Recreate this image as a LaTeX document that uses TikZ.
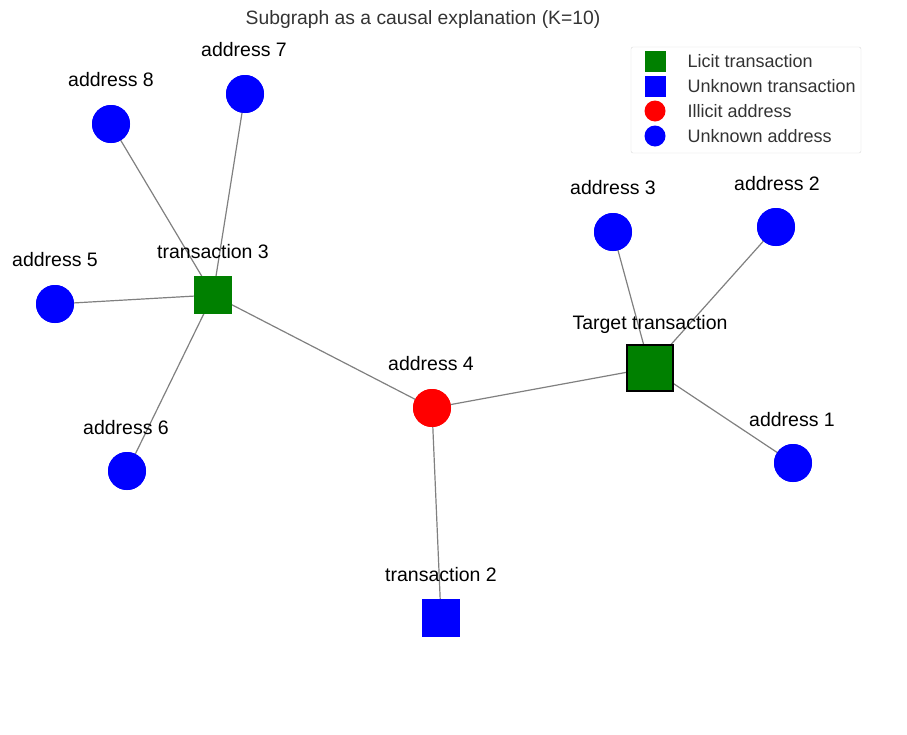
\documentclass[tikz,border=0pt]{standalone}
\usepackage{fontspec}
\setmainfont{Liberation Sans}
\begin{document}
\begin{tikzpicture}[x=1pt,y=-1pt,
  addr/.style={circle,minimum size=38pt,inner sep=0pt},
  tx/.style={rectangle,minimum size=38pt,inner sep=0pt},
  edge/.style={draw=gray,line width=1.2pt},
  lbl/.style={font=\fontsize{19.5}{22}\selectfont,text=black},
  leg/.style={font=\fontsize{18}{20}\selectfont,anchor=west,text=black!80}]
\useasboundingbox (0,0) rectangle (907,734);
\node[font=\fontsize{19.3}{22}\selectfont,text=black!80] (title) at (423,20) {Subgraph as a causal explanation (K=10)};
\node[addr,fill=blue] (a7) at (245,94) {};
\node[addr,fill=blue] (a8) at (111,124) {};
\node[addr,fill=blue] (a5) at (55,304) {};
\node[tx,fill=green!50!black] (t3) at (213,295) {};
\node[addr,fill=blue] (a6) at (127,471) {};
\node[addr,fill=red] (a4) at (432,408) {};
\node[tx,fill=blue] (t2) at (441,618) {};
\node[tx,minimum size=46pt,fill=green!50!black,draw=black,line width=2pt] (tt) at (650,368) {};
\node[addr,fill=blue] (a3) at (613,232) {};
\node[addr,fill=blue] (a2) at (776,227) {};
\node[addr,fill=blue] (a1) at (793,463) {};
\foreach \a/\b in {t3/a7,t3/a8,t3/a5,t3/a6,t3/a4,a4/tt,a4/t2,tt/a3,tt/a2,tt/a1}{
  \draw[edge] (\a.center) -- (\b.center);}
% redraw nodes above edges
\node[addr,fill=blue] at (245,94) {};
\node[addr,fill=blue] at (111,124) {};
\node[addr,fill=blue] at (55,304) {};
\node[tx,fill=green!50!black] at (213,295) {};
\node[addr,fill=blue] at (127,471) {};
\node[addr,fill=red] at (432,408) {};
\node[tx,fill=blue] at (441,618) {};
\node[tx,minimum size=46pt,fill=green!50!black,draw=black,line width=2pt] at (650,368) {};
\node[addr,fill=blue] at (613,232) {};
\node[addr,fill=blue] at (776,227) {};
\node[addr,fill=blue] at (793,463) {};
\node[lbl] (l7) at (244,50) {address 7};
\node[lbl] (l8) at (111,80) {address 8};
\node[lbl] (l5) at (55,260) {address 5};
\node[lbl] (l3t) at (213,252) {transaction 3};
\node[lbl] (l6) at (126,428) {address 6};
\node[lbl] (l4) at (431,364) {address 4};
\node[lbl] (l2t) at (441,575) {transaction 2};
\node[lbl] (ltt) at (650,324) {Target transaction};
\node[lbl] (l3) at (613,188) {address 3};
\node[lbl] (l2) at (777,184) {address 2};
\node[lbl] (l1) at (792,420) {address 1};
% legend
\draw[draw=black!15,fill=white,rounded corners=2pt] (631,47) rectangle (861,153);
\node[tx,minimum size=21pt,fill=green!50!black] (k1) at (655,61) {};
\node[tx,minimum size=21pt,fill=blue] (k2) at (655,86) {};
\node[addr,minimum size=21pt,fill=red] (k3) at (655,111) {};
\node[addr,minimum size=21pt,fill=blue] (k4) at (655,136) {};
\node[leg] at (684,61) {Licit transaction};
\node[leg] at (684,86) {Unknown transaction};
\node[leg] at (684,111) {Illicit address};
\node[leg] at (684,136) {Unknown address};
\end{tikzpicture}
\end{document}
